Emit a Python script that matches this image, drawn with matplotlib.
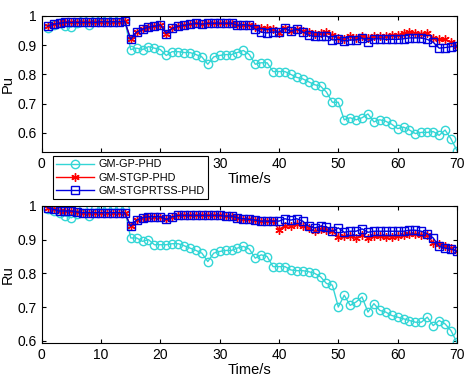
import numpy as np
import matplotlib
matplotlib.use("Agg")
import matplotlib.pyplot as plt

plt.rcParams['font.family'] = ['Liberation Sans', 'DejaVu Sans']

t = np.arange(1, 71)

# Pu (top panel)
pu_gp = [0.960, 0.970, 0.975, 0.965, 0.962, 0.975, 0.985, 0.970, 0.985, 0.988,
         0.990, 0.990, 0.990, 0.988, 0.885, 0.890, 0.885, 0.895, 0.890, 0.885,
         0.865, 0.878, 0.878, 0.875, 0.875, 0.868, 0.860, 0.835, 0.860, 0.865,
         0.868, 0.868, 0.875, 0.882, 0.868, 0.835, 0.840, 0.840, 0.810, 0.810,
         0.810, 0.800, 0.790, 0.785, 0.775, 0.765, 0.760, 0.740, 0.705, 0.705,
         0.645, 0.652, 0.645, 0.652, 0.665, 0.638, 0.645, 0.640, 0.630, 0.615,
         0.620, 0.610, 0.598, 0.602, 0.602, 0.605, 0.592, 0.610, 0.580, 0.540]
pu_stgp = [0.965, 0.972, 0.975, 0.978, 0.978, 0.978, 0.978, 0.978, 0.978, 0.980,
           0.980, 0.980, 0.980, 0.982, 0.920, 0.945, 0.955, 0.962, 0.965, 0.970,
           0.940, 0.958, 0.965, 0.968, 0.972, 0.975, 0.972, 0.975, 0.975, 0.975,
           0.975, 0.975, 0.968, 0.970, 0.968, 0.962, 0.958, 0.958, 0.955, 0.942,
           0.958, 0.950, 0.955, 0.948, 0.945, 0.940, 0.942, 0.945, 0.935, 0.925,
           0.922, 0.930, 0.925, 0.932, 0.925, 0.930, 0.932, 0.932, 0.935, 0.935,
           0.942, 0.945, 0.942, 0.940, 0.942, 0.925, 0.920, 0.920, 0.910, 0.898]
pu_rtss = [0.965, 0.972, 0.975, 0.978, 0.978, 0.978, 0.978, 0.978, 0.978, 0.980,
           0.980, 0.980, 0.980, 0.982, 0.920, 0.945, 0.955, 0.962, 0.965, 0.970,
           0.940, 0.958, 0.965, 0.968, 0.972, 0.975, 0.972, 0.975, 0.975, 0.975,
           0.975, 0.975, 0.968, 0.970, 0.968, 0.955, 0.945, 0.942, 0.945, 0.945,
           0.958, 0.948, 0.955, 0.945, 0.935, 0.930, 0.930, 0.932, 0.918, 0.920,
           0.915, 0.918, 0.918, 0.925, 0.912, 0.922, 0.922, 0.920, 0.920, 0.920,
           0.922, 0.925, 0.925, 0.925, 0.920, 0.910, 0.890, 0.892, 0.895, 0.898]

# Ru (bottom panel)
ru_gp = [0.990, 0.985, 0.980, 0.970, 0.965, 0.975, 0.990, 0.970, 0.990, 0.990,
         0.990, 0.990, 0.990, 0.990, 0.905, 0.905, 0.895, 0.900, 0.885, 0.885,
         0.885, 0.888, 0.888, 0.882, 0.875, 0.868, 0.860, 0.835, 0.860, 0.865,
         0.868, 0.868, 0.875, 0.880, 0.872, 0.845, 0.855, 0.850, 0.820, 0.820,
         0.820, 0.810, 0.808, 0.808, 0.805, 0.800, 0.790, 0.770, 0.765, 0.700,
         0.735, 0.705, 0.715, 0.730, 0.685, 0.710, 0.690, 0.685, 0.675, 0.670,
         0.665, 0.660, 0.655, 0.655, 0.670, 0.645, 0.660, 0.650, 0.630, 0.595]
ru_stgp = [0.995, 0.990, 0.985, 0.985, 0.985, 0.982, 0.980, 0.980, 0.980, 0.980,
           0.980, 0.980, 0.980, 0.980, 0.940, 0.958, 0.965, 0.968, 0.968, 0.968,
           0.960, 0.968, 0.972, 0.972, 0.972, 0.972, 0.972, 0.972, 0.972, 0.972,
           0.970, 0.970, 0.965, 0.962, 0.960, 0.958, 0.955, 0.955, 0.955, 0.930,
           0.942, 0.940, 0.945, 0.940, 0.935, 0.925, 0.932, 0.930, 0.925, 0.908,
           0.910, 0.912, 0.905, 0.915, 0.905, 0.910, 0.910, 0.908, 0.908, 0.910,
           0.915, 0.918, 0.918, 0.915, 0.915, 0.890, 0.888, 0.882, 0.875, 0.865]
ru_rtss = [0.995, 0.990, 0.985, 0.985, 0.985, 0.982, 0.980, 0.980, 0.980, 0.980,
           0.980, 0.980, 0.980, 0.980, 0.940, 0.958, 0.965, 0.968, 0.968, 0.968,
           0.960, 0.968, 0.972, 0.972, 0.972, 0.972, 0.972, 0.972, 0.972, 0.972,
           0.970, 0.970, 0.965, 0.962, 0.960, 0.958, 0.955, 0.955, 0.955, 0.955,
           0.962, 0.958, 0.962, 0.955, 0.940, 0.935, 0.940, 0.938, 0.925, 0.935,
           0.922, 0.925, 0.925, 0.932, 0.922, 0.925, 0.925, 0.925, 0.925, 0.925,
           0.925, 0.928, 0.928, 0.925, 0.918, 0.905, 0.880, 0.875, 0.872, 0.865]

labels = ['GM-GP-PHD', 'GM-STGP-PHD', 'GM-STGPRTSS-PHD']
xticks = list(range(0, 71, 10))
yticks = [0.6, 0.7, 0.8, 0.9, 1]

fig = plt.figure(figsize=(4.74, 3.8), dpi=100)
ax1 = fig.add_axes([0.088, 0.600, 0.876, 0.358])
ax2 = fig.add_axes([0.088, 0.098, 0.876, 0.360])

cyan = '#33D6D6'
asterisk = (6, 2, 0)

def draw(ax, a, b, c, ylab, ylim, xlabs):
    ax.plot(t, a, color=cyan, marker='o', mfc='none', ms=6, lw=1)
    ax.plot(t, b, color='r', marker=asterisk, ms=6, mew=1, lw=1)
    ax.plot(t, c, color='#0000E0', marker='s', mfc='none', ms=5.5, lw=1)
    ax.set_xlim(0, 70)
    ax.set_ylim(*ylim)
    ax.set_xticks(xticks)
    ax.set_xticklabels(xlabs)
    ax.set_yticks(yticks)
    ax.set_yticklabels([('%g' % v) for v in yticks])
    ax.tick_params(direction='in', top=True, right=True, labelsize=10, length=3)
    ax.set_xlabel('Time/s', fontsize=10.5, labelpad=1)
    ax.set_ylabel(ylab, fontsize=10.5, labelpad=2)

# 10 and 20 sit behind the legend in the top panel
top_labels = [str(v) if v not in (10, 20) else '' for v in xticks]
draw(ax1, pu_gp, pu_stgp, pu_rtss, 'Pu', (0.535, 1.0), top_labels)
draw(ax2, ru_gp, ru_stgp, ru_rtss, 'Ru', (0.594, 1.0), [str(v) for v in xticks])

leg = fig.legend(ax1.get_lines(), labels, loc='upper left',
                 bbox_to_anchor=(0.112, 0.589), fontsize=7.8, fancybox=False,
                 framealpha=1, edgecolor='black', handlelength=3.5,
                 borderpad=0.3, labelspacing=0.3, handletextpad=0.4,
                 borderaxespad=0)
leg.get_frame().set_linewidth(0.8)

fig.savefig('out.png', dpi=100)
